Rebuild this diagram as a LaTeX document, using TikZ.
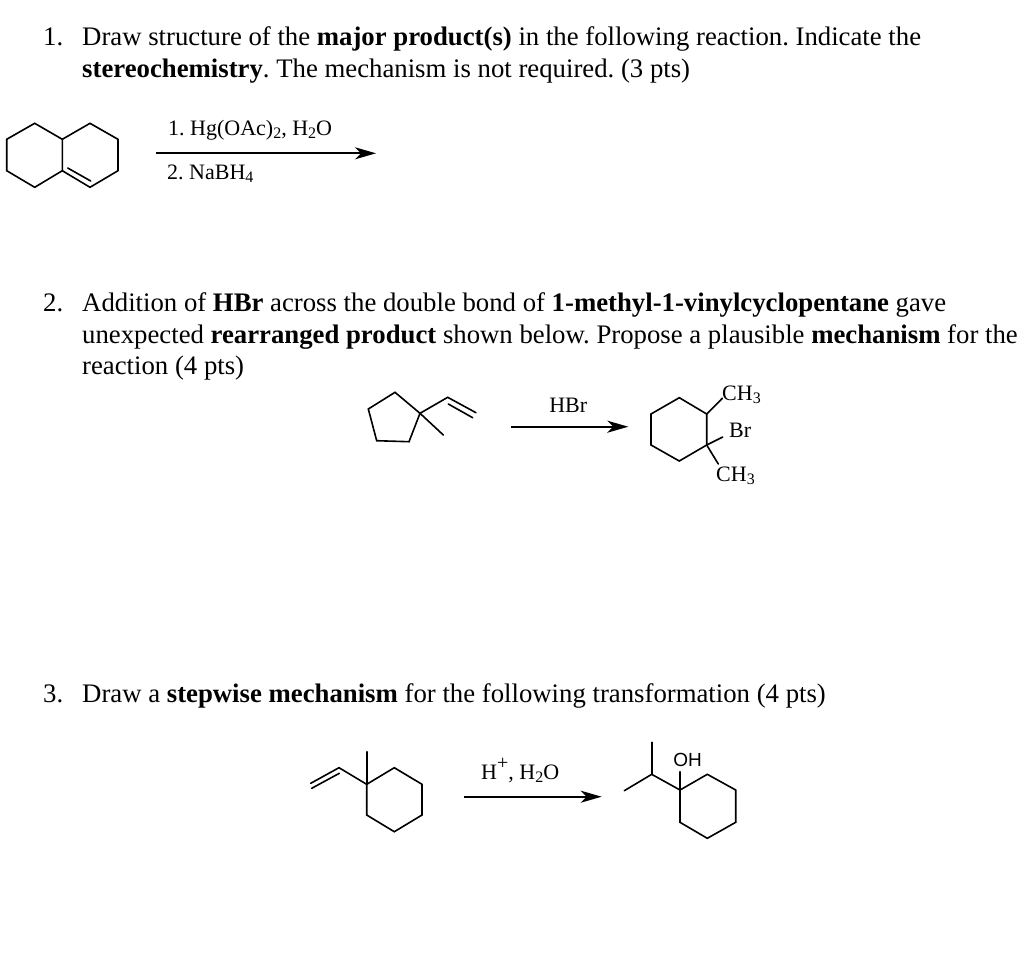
\documentclass[tikz,border=0pt]{standalone}
\usepackage{fontspec}
\setmainfont{Liberation Serif}
\newfontfamily\atomfont{Liberation Sans}
\usetikzlibrary{arrows.meta}
\newcommand{\lowered}[1]{\raisebox{-0.3ex}{\fontsize{16}{16}\selectfont #1}}
\newcommand{\raised}[1]{\raisebox{0.9ex}{\fontsize{20}{20}\selectfont #1}}
\frenchspacing
\tikzset{
  question/.style={
    anchor=base west,
    inner sep=0pt,
    font=\fontsize{26.75}{30}\selectfont
  },
  reagent/.style={
    inner sep=0pt,
    font=\fontsize{22}{24}\selectfont
  },
  atom/.style={
    inner sep=0pt,
    font=\fontsize{22}{24}\selectfont
  },
  bond/.style={line width=1.6pt, line join=miter, line cap=round},
  arrow/.style={-{Stealth[length=21pt, width=12pt, inset=6pt]}, line width=1.8pt}
}
\begin{document}
\begin{tikzpicture}[x=1pt, y=-1pt]
\useasboundingbox (0,0) rectangle (1024,975);

% --- Question 1 text
\node[question] (n1) at (43,45.5) {1.};
\node[question] (l1a) at (82,45.5) {Draw structure of the \textbf{major product(s)} in the following reaction. Indicate the};
\node[question] (l1b) at (82,77.5) {\textbf{stereochemistry}. The mechanism is not required. (3 pts)};

% --- Question 1 reaction: fused rings
\coordinate (a1) at (6.7,139.3);
\coordinate (a2) at (34.7,123.3);
\coordinate (a3) at (62.3,139.3);
\coordinate (a4) at (62.3,170.7);
\coordinate (a5) at (34.7,187.3);
\coordinate (a6) at (6.7,170.7);
\coordinate (a7) at (90,123.3);
\coordinate (a8) at (118,139.3);
\coordinate (a9) at (118,170.7);
\coordinate (a10) at (90,187.3);
\coordinate (a11) at (67.7,168);
\coordinate (a12) at (90.7,181);
\draw[bond] (a1) -- (a2) -- (a3) -- (a4) -- (a5) -- (a6) -- cycle;
\draw[bond] (a3) -- (a7) -- (a8) -- (a9) -- (a10) -- (a4);
\draw[bond] (a11) -- (a12);

\coordinate (r1s) at (156,153.3);
\coordinate (r1e) at (376,153.3);
\draw[arrow] (r1s) -- (r1e);
\node[reagent, anchor=base west] (r1a) at (168,135) {1. Hg(OAc)\lowered{2}, H\lowered{2}O};
\node[reagent, anchor=base west] (r1b) at (167,179.5) {2. NaBH\lowered{4}};

% --- Question 2 text
\node[question] (n2) at (43,311.5) {2.};
\node[question] (l2a) at (82,311.5) {Addition of \textbf{HBr} across the double bond of \textbf{1-methyl-1-vinylcyclopentane} gave};
\node[question] (l2b) at (82,343.5) {unexpected \textbf{rearranged product} shown below. Propose a plausible \textbf{mechanism} for the};
\node[question] (l2c) at (82,374.5) {reaction (4 pts)};

% --- Question 2 reaction: five-membered ring
\coordinate (b1) at (420,413.3);
\coordinate (b2) at (395,392.3);
\coordinate (b3) at (368.3,409);
\coordinate (b4) at (376.7,440.7);
\coordinate (b5) at (409,441.7);
\coordinate (b6) at (443.3,435);
\coordinate (b7) at (447.7,397.3);
\coordinate (b8) at (476,412.7);
\coordinate (b9) at (448.3,404);
\coordinate (b10) at (472.7,417.7);
\draw[bond] (b1) -- (b2) -- (b3) -- (b4) -- (b5) -- cycle;
\draw[bond] (b1) -- (b6);
\draw[bond] (b1) -- (b7) -- (b8);
\draw[bond] (b9) -- (b10);

\coordinate (r2s) at (511,426.7);
\coordinate (r2e) at (628.3,426.7);
\draw[arrow] (r2s) -- (r2e);
\node[reagent, anchor=base] (r2a) at (568.3,412.5) {HBr};

% --- Question 2 product
\coordinate (c1) at (679.3,397.7);
\coordinate (c2) at (706.7,414);
\coordinate (c3) at (706.7,445);
\coordinate (c4) at (679.3,461);
\coordinate (c5) at (651,445);
\coordinate (c6) at (651,414);
\coordinate (c7) at (722.3,398.3);
\coordinate (c8) at (722.7,437);
\coordinate (c9) at (718.3,464);
\draw[bond] (c1) -- (c2) -- (c3) -- (c4) -- (c5) -- (c6) -- cycle;
\draw[bond] (c2) -- (c7);
\draw[bond] (c3) -- (c8);
\draw[bond] (c3) -- (c9);
\node[atom, anchor=base west] (ch3a) at (722,400) {CH\lowered{3}};
\node[atom, anchor=base west] (br) at (729,437) {Br};
\node[atom, anchor=base west] (ch3b) at (716,481) {CH\lowered{3}};

% --- Question 3 text
\node[question] (n3) at (43,702.5) {3.};
\node[question] (l3a) at (82,702.5) {Draw a \textbf{stepwise mechanism} for the following transformation (4 pts)};

% --- Question 3 reaction: starting material
\coordinate (d1) at (366.7,784.3);
\coordinate (d2) at (394.3,767.7);
\coordinate (d3) at (422,784.3);
\coordinate (d4) at (422,815);
\coordinate (d5) at (394.3,831.7);
\coordinate (d6) at (366.7,815);
\coordinate (d7) at (366.7,751.7);
\coordinate (d8) at (339,767.7);
\coordinate (d9) at (310.7,783.3);
\coordinate (d10) at (339.3,773.3);
\coordinate (d11) at (311.7,788.3);
\draw[bond] (d1) -- (d2) -- (d3) -- (d4) -- (d5) -- (d6) -- cycle;
\draw[bond] (d1) -- (d7);
\draw[bond] (d1) -- (d8) -- (d9);
\draw[bond] (d10) -- (d11);

\coordinate (r3s) at (464.3,796.7);
\coordinate (r3e) at (601.7,796.7);
\draw[arrow] (r3s) -- (r3e);
\node[reagent, anchor=base west] (r3a) at (481,779) {H\raised{+}, H\lowered{2}O};

% --- Question 3 product
\coordinate (e1) at (680,790);
\coordinate (e2) at (707.3,774.3);
\coordinate (e3) at (735.7,790);
\coordinate (e4) at (735.7,822.3);
\coordinate (e5) at (707.3,838.3);
\coordinate (e6) at (680,822.3);
\coordinate (e7) at (651.7,774.3);
\coordinate (e8) at (624.3,790.7);
\coordinate (e9) at (651.7,742.3);
\coordinate (e10) at (680,771.7);
\draw[bond] (e1) -- (e2) -- (e3) -- (e4) -- (e5) -- (e6) -- cycle;
\draw[bond] (e1) -- (e7) -- (e8);
\draw[bond] (e7) -- (e9);
\draw[bond] (e1) -- (e10);
\node[atom, font=\atomfont\fontsize{19}{20}\selectfont] (oh) at (687.7,760) {OH};

\end{tikzpicture}
\end{document}
